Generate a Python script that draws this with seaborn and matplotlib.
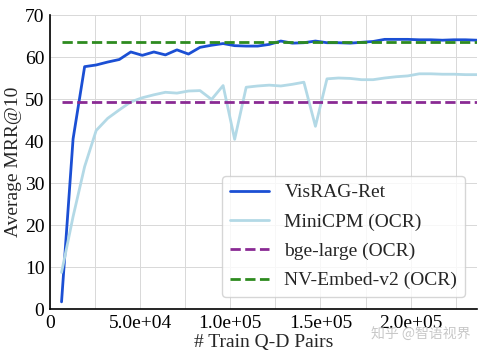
import numpy as np
import pandas as pd
import matplotlib
matplotlib.use("Agg")
import matplotlib.pyplot as plt
import seaborn as sns

# x: number of training query-document pairs
train_pairs = [6400 * k for k in range(1, 38)]

visrag_ret = [1.7, 40.5, 57.7, 58.1, 58.8, 59.4, 61.2, 60.4, 61.2, 60.5,
              61.7, 60.7, 62.3, 62.8, 63.2, 62.7, 62.6, 62.6, 63.0, 63.8,
              63.3, 63.4, 63.8, 63.4, 63.4, 63.3, 63.5, 63.7, 64.2, 64.2,
              64.2, 64.1, 64.1, 64.0, 64.1, 64.1, 64.0]
minicpm_ocr = [8.7, 22.0, 33.9, 42.5, 45.4, 47.4, 49.3, 50.3, 51.0, 51.6,
               51.4, 51.9, 52.0, 49.9, 53.2, 40.4, 52.8, 53.1, 53.3, 53.1,
               53.5, 54.0, 43.5, 54.8, 55.0, 54.9, 54.6, 54.6, 55.0, 55.3,
               55.5, 56.0, 56.0, 55.9, 55.9, 55.8, 55.8]
bge_large_ocr = 49.3
nv_embed_ocr = 63.6

x_ticks = [25000 * i for i in range(10)]
x_ticklabels = ["0", "", "5.0e+04", "", "1.0e+05", "", "1.5e+05", "", "2.0e+05", ""]

sns.set_style("whitegrid")
plt.rcParams['font.family'] = ['Liberation Serif', 'DejaVu Serif']
plt.rcParams['mathtext.fontset'] = 'stix'

df = pd.DataFrame({"x": train_pairs, "VisRAG-Ret": visrag_ret,
                   "MiniCPM (OCR)": minicpm_ocr,
                   "bge-large (OCR)": [bge_large_ocr] * len(train_pairs),
                   "NV-Embed-v2 (OCR)": [nv_embed_ocr] * len(train_pairs)})

fig, ax = plt.subplots(figsize=(4.83, 3.57), dpi=100)
fig.subplots_adjust(left=50/483, right=477/483, bottom=1-309/357, top=1-15/357)

sns.lineplot(data=df, x="x", y="VisRAG-Ret", color="#1b4fd4", lw=2.0,
             label="VisRAG-Ret", ax=ax)
sns.lineplot(data=df, x="x", y="MiniCPM (OCR)", color="#b3d9e6", lw=2.0,
             label="MiniCPM (OCR)", ax=ax)
sns.lineplot(data=df, x="x", y="bge-large (OCR)", color="#8a2a94", lw=2.0,
             ls="--", label="bge-large (OCR)", ax=ax)
sns.lineplot(data=df, x="x", y="NV-Embed-v2 (OCR)", color="#2e8b1f", lw=2.0,
             ls="--", label="NV-Embed-v2 (OCR)", ax=ax)

ax.set_xlim(0, train_pairs[-1])
ax.set_ylim(0, 70)
ax.set_xticks(x_ticks)
ax.set_xticklabels(x_ticklabels)
ax.set_yticks(range(0, 71, 10))
ax.tick_params(labelsize=14, length=3, colors="black", pad=1)
ax.grid(True, color="#d8d8d8", lw=0.7, ls="-")
for side in ["top", "right"]:
    ax.spines[side].set_visible(False)
for side in ["left", "bottom"]:
    ax.spines[side].set_color("black")
    ax.spines[side].set_linewidth(1.2)

ax.set_xlabel("# Train Q-D Pairs", fontsize=14, labelpad=2)
ax.set_ylabel("Average MRR@10", fontsize=14, labelpad=2)
ax.legend(loc="lower right", bbox_to_anchor=(0.972, 0.04), fontsize=14,
          frameon=True, framealpha=0.8, borderaxespad=0, labelspacing=0.6)

fig.text(0.975, 0.065, "知乎 @智语视界", fontsize=10, color="#c8c8c8",
         ha="right", va="center", family=["Noto Sans CJK SC", "DejaVu Sans"])

fig.savefig("out.png", dpi=100)
